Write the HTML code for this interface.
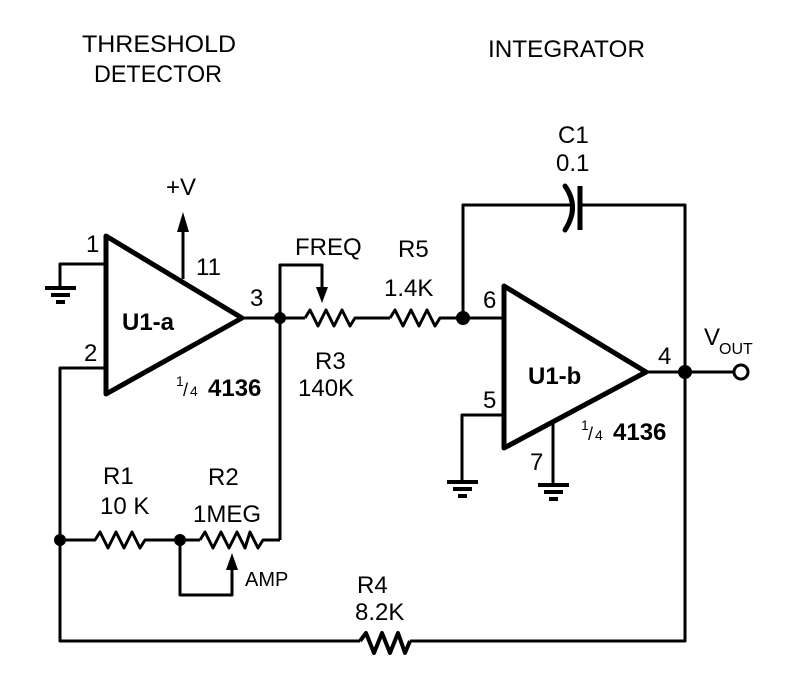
<!DOCTYPE html>
<html><head><meta charset="utf-8"><style>
html,body{margin:0;padding:0;background:#fff;}
svg{display:block;}
text{font-family:"Liberation Sans",Arial,sans-serif;fill:#000;}
</style></head><body>
<svg width="793" height="679" viewBox="0 0 793 679" xmlns="http://www.w3.org/2000/svg">
<g fill="none" stroke="#000" stroke-width="3" stroke-linejoin="round">
<polygon points="106,236 106,394 242,318" stroke-width="5"/>
<polygon points="504,286 504,448 646,372" stroke-width="5"/>
<polyline points="106,264 60,264 60,288"/>
<line x1="45" y1="288" x2="76" y2="288" stroke-width="4"/>
<line x1="51" y1="295" x2="70" y2="295" stroke-width="4"/>
<line x1="56" y1="302" x2="65" y2="302" stroke-width="4"/>
<polyline points="106,368 60,368 60,641 360,641"/>
<polyline points="410,641 685,641 685,205 580,205"/>
<line x1="183" y1="279" x2="183" y2="226"/>
<line x1="242" y1="318" x2="305" y2="318"/>
<line x1="280" y1="318" x2="280" y2="540"/>
<line x1="280" y1="540" x2="270" y2="540"/>
<polyline points="280,318 280,265 322,265 322,290"/>
<polyline points="305,318 310,310 318,326 326,310 334,326 342,310 350,326 355,318 390,318"/>
<polyline points="390,318 395,310 403,326 411,310 419,326 427,310 435,326 440,318 504,318"/>
<polyline points="463,318 463,205 571,205"/>
<line x1="580" y1="186" x2="580" y2="230" stroke-width="5"/>
<path d="M565,186 Q580,207 565,230" stroke-width="5" stroke-linecap="round"/>
<polyline points="504,415 462,415 462,482"/>
<line x1="447" y1="482" x2="478" y2="482" stroke-width="4"/>
<line x1="453" y1="489" x2="472" y2="489" stroke-width="4"/>
<line x1="458" y1="496" x2="467" y2="496" stroke-width="4"/>
<line x1="553" y1="423" x2="553" y2="485"/>
<line x1="538" y1="485" x2="569" y2="485" stroke-width="4"/>
<line x1="544" y1="492" x2="563" y2="492" stroke-width="4"/>
<line x1="549" y1="499" x2="558" y2="499" stroke-width="4"/>
<line x1="646" y1="372" x2="734" y2="372"/>
<circle cx="741" cy="372" r="7" fill="#fff"/>
<polyline points="60,540 95,540 100,532 108,548 116,532 124,548 132,532 140,548 145,540 200,540"/>
<polyline points="200,540 205,532 213,548 221,532 229,548 237,532 245,548 250,532 258,548 263,540 270,540"/>
<polyline points="180,540 180,595 232,595 232,568"/>
<polyline points="360,641 366,633 374,653 382,633 390,653 398,633 405,653 410,641" stroke-width="4"/>
</g>
<g fill="#000">
<polygon points="183,212 177,232 189,232"/>
<polygon points="322,303 316,287 328,287"/>
<polygon points="232,553 226,570 238,570"/>
<circle cx="280" cy="318" r="6"/>
<circle cx="463" cy="318" r="7"/>
<circle cx="685" cy="372" r="7"/>
<circle cx="60" cy="540" r="6"/>
<circle cx="180" cy="540" r="6"/>
</g>
<g font-size="24">
<text x="82" y="52" textLength="154" lengthAdjust="spacingAndGlyphs">THRESHOLD</text>
<text x="94" y="82" textLength="128" lengthAdjust="spacingAndGlyphs">DETECTOR</text>
<text x="488" y="57" textLength="157" lengthAdjust="spacingAndGlyphs">INTEGRATOR</text>
<text x="558" y="143">C1</text>
<text x="556" y="171">0.1</text>
<text x="166" y="195">+V</text>
<text x="86" y="252">1</text>
<text x="196" y="275">11</text>
<text x="84" y="361">2</text>
<text x="250" y="306">3</text>
<text x="295" y="255">FREQ</text>
<text x="398" y="257">R5</text>
<text x="384" y="296">1.4K</text>
<text x="315" y="369">R3</text>
<text x="298" y="396">140K</text>
<text x="483" y="308">6</text>
<text x="483" y="408">5</text>
<text x="530" y="470">7</text>
<text x="658" y="364">4</text>
<text x="704" y="345">V</text>
<text x="719" y="354" font-size="16">OUT</text>
<text x="103" y="484">R1</text>
<text x="100" y="514">10 K</text>
<text x="208" y="485">R2</text>
<text x="193" y="522">1MEG</text>
<text x="245" y="586" font-size="20">AMP</text>
<text x="357" y="593">R4</text>
<text x="355" y="620">8.2K</text>
<text x="122" y="330" font-weight="bold">U1-a</text>
<text x="528" y="384" font-weight="bold">U1-b</text>
<text x="176" y="386" font-size="14">1</text><text x="183" y="396" font-size="18">/</text><text x="190" y="396" font-size="14">4</text>
<text x="208" y="396" font-weight="bold">4136</text>
<text x="581" y="430" font-size="14">1</text><text x="588" y="440" font-size="18">/</text><text x="595" y="440" font-size="14">4</text>
<text x="613" y="440" font-weight="bold">4136</text>
</g>
</svg>
</body></html>
